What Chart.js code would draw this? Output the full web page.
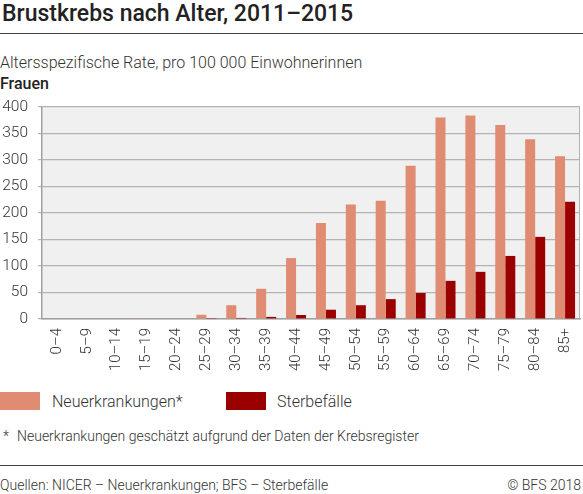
<!DOCTYPE html>
<html lang="de">
<head>
<meta charset="utf-8">
<title>Brustkrebs nach Alter, 2011–2015</title>
<script src="https://cdn.jsdelivr.net/npm/chart.js@4.4.1/dist/chart.umd.min.js"></script>
<style>
    html, body { margin: 0; padding: 0; background: #fff; }
    body { width: 583px; height: 494px; position: relative; overflow: hidden;
           font-family: Roboto, "Noto Sans", sans-serif; color: #333; }
    .abs { position: absolute; white-space: nowrap; line-height: 1.2; }
    #title { left: 2px; top: 0px; font-size: 23px; font-weight: 500; color: #222; }
    .rule { position: absolute; left: 0; width: 583px; height: 1px; background: #444; }
    #sub { left: 0; top: 53px; font-size: 16px; font-weight: 300; color: #333; }
    #frauen { left: 0; top: 74px; font-size: 16px; font-weight: 500; color: #222; }
    #chart-wrap { position: absolute; left: 0; top: 95px; width: 583px; height: 285px; }
    .swatch { position: absolute; top: 392px; width: 40px; height: 18px; }
    .legtext { top: 392px; font-size: 16px; font-weight: 300; color: #333; }
    .small { font-size: 14px; font-weight: 300; color: #333; }
</style>
</head>
<body>
<div id="title" class="abs">Brustkrebs nach Alter, 2011–2015</div>
<div class="rule" style="top:33px"></div>
<div id="sub" class="abs">Altersspezifische Rate, pro 100 000 Einwohnerinnen</div>
<div id="frauen" class="abs">Frauen</div>

<div id="chart-wrap"><canvas id="chart"></canvas></div>

<div class="swatch" id="sw0" style="left:0"></div>
<div class="abs legtext" id="lg0" style="left:52px"></div>
<div class="swatch" id="sw1" style="left:226px"></div>
<div class="abs legtext" id="lg1" style="left:277px"></div>

<div class="abs small" style="left:3px; top:428px">*</div>
<div class="abs small" style="left:17px; top:428px">Neuerkrankungen geschätzt aufgrund der Daten der Krebsregister</div>
<div class="rule" style="top:465px"></div>
<div class="abs small" style="left:0; top:477px">Quellen: NICER – Neuerkrankungen; BFS – Sterbefälle</div>
<div class="abs small" style="right:2px; top:477px">© BFS 2018</div>

<script>
    'use strict';

    // Age groups (x axis)
    var ageGroups = ['0–4', '5–9', '10–14', '15–19', '20–24', '25–29', '30–34', '35–39', '40–44',
                     '45–49', '50–54', '55–59', '60–64', '65–69', '70–74', '75–79', '80–84', '85+'];

    // Rates per 100 000 women
    var neuerkrankungen = [0, 0, 0, 0.5, 1.5, 8, 26, 57, 115, 181, 216, 223, 289, 380, 384, 366, 339, 307];
    var sterbefaelle    = [0, 0, 0, 0, 0, 0.5, 2, 4, 7.5, 17.5, 26, 37.5, 49, 72, 89, 119, 155, 221];

    var seriesNames = ['Neuerkrankungen*', 'Sterbefälle'];
    var seriesColors = ['#e08c73', '#9b0000'];

    var yTicks = { min: 0, max: 400, step: 50 };

    // fill the legend
    for (var i = 0; i < 2; i++) {
        document.getElementById('sw' + i).style.background = seriesColors[i];
        document.getElementById('lg' + i).textContent = seriesNames[i];
    }

    // grey plot background plus frame on the right
    var plotFrame = {
        id: 'plotFrame',
        beforeDraw: function(chart) {
            var a = chart.chartArea, c = chart.ctx;
            c.save();
            c.fillStyle = '#f0f0f0';
            c.fillRect(a.left, a.top, a.right - a.left, a.bottom - a.top);
            c.restore();
        },
        afterDatasetsDraw: function(chart) {
            var a = chart.chartArea, c = chart.ctx;
            c.save();
            c.strokeStyle = '#b3b3b3';
            c.lineWidth = 1;
            c.beginPath();
            c.moveTo(a.right - 0.5, a.top);
            c.lineTo(a.right - 0.5, a.bottom);
            c.stroke();
            c.restore();
        }
    };

    new Chart(document.getElementById('chart'), {
        type: 'bar',
        data: {
            labels: ageGroups,
            datasets: [{
                label: seriesNames[0],
                data: neuerkrankungen,
                backgroundColor: seriesColors[0]
            }, {
                label: seriesNames[1],
                data: sterbefaelle,
                backgroundColor: seriesColors[1]
            }]
        },
        options: {
            responsive: true,
            maintainAspectRatio: false,
            animation: false,
            layout: { padding: { top: 12, right: 3, left: 0, bottom: 0 } },
            datasets: { bar: { barPercentage: 1, categoryPercentage: 0.67 } },
            plugins: { legend: { display: false }, tooltip: { enabled: false } },
            scales: {
                x: {
                    grid: { display: false },
                    border: { display: true, color: '#a0a0a0', width: 1.5 },
                    ticks: {
                        color: '#333', padding: 1, autoSkip: false,
                        minRotation: 90, maxRotation: 90,
                        font: { family: 'Roboto', size: 15, weight: 300 }
                    },
                    // fixed axis height, no extra side padding for rotated labels
                    afterFit: function(s) { s.height = 61; s.paddingLeft = 0; s.paddingRight = 0; }
                },
                y: {
                    min: yTicks.min,
                    max: yTicks.max,
                    grid: { color: '#b3b3b3', lineWidth: 1.2, tickLength: 4 },
                    border: { display: true, color: '#a0a0a0', width: 1.5 },
                    ticks: { stepSize: yTicks.step, color: '#333', padding: 10,
                             font: { family: 'Roboto', size: 15.5, weight: 300 } },
                    afterFit: function(s) { s.width = 42; s.paddingTop = 0; s.paddingBottom = 0; }
                }
            }
        },
        plugins: [plotFrame]
    });
</script>
</body>
</html>
